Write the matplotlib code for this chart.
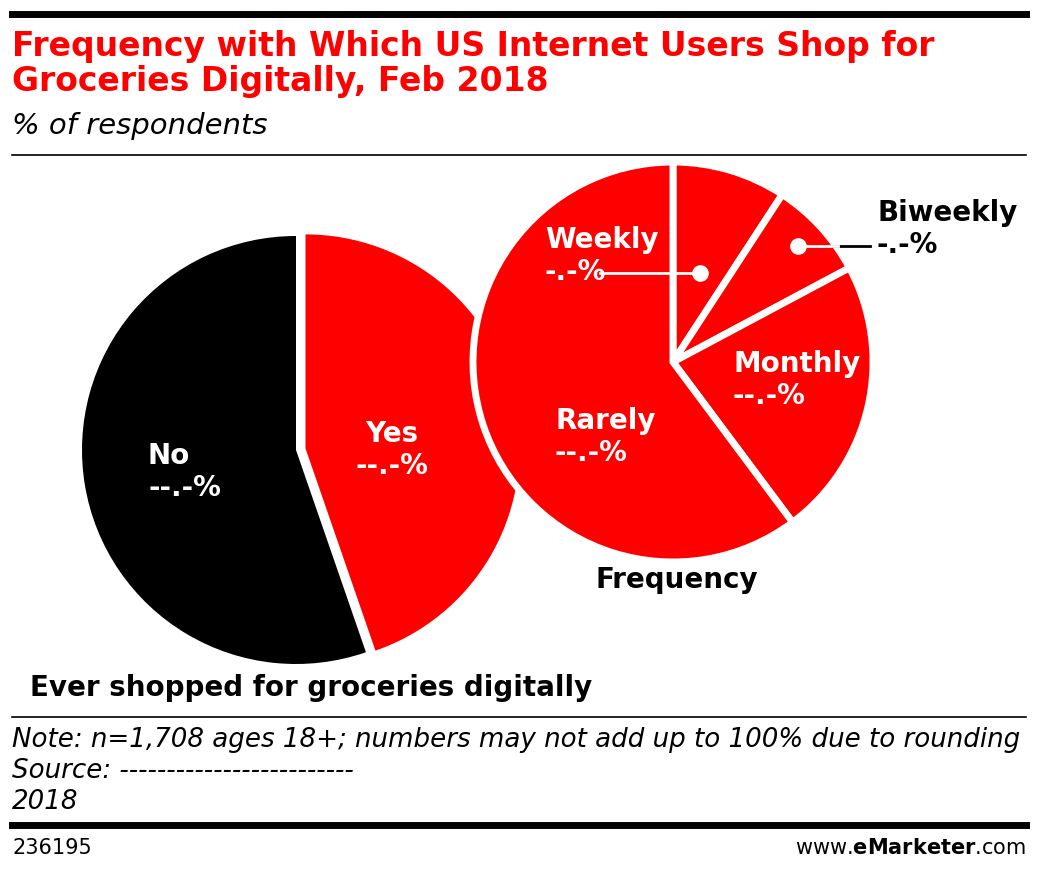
import matplotlib
matplotlib.use("Agg")
import matplotlib.pyplot as plt
from matplotlib.lines import Line2D

W, H = 1038, 873
ever_labels = ["Yes", "No"]
ever_values = [44.7, 55.3]
freq_labels = ["Weekly", "Biweekly", "Monthly", "Rarely"]
freq_values = [9.2, 8.0, 22.6, 60.2]
RED = "#ff0000"

fig = plt.figure(figsize=(W/100, H/100), dpi=100)
fig.patch.set_facecolor("white")

def fx(x): return x / W
def fy(y): return 1 - y / H

def hline(y, lw, x0=12, x1=1026):
    fig.add_artist(Line2D([fx(x0), fx(x1)], [fy(y), fy(y)], color="black", lw=lw))

hline(14, 5)
hline(155, 1.2)
hline(717, 1.2)
hline(825, 5)

def txt(x, y, s, **kw):
    kw.setdefault("va", "center")
    fig.text(fx(x), fy(y), s, zorder=10, **kw)

txt(12, 64, "Frequency with Which US Internet Users Shop for\nGroceries Digitally, Feb 2018",
    color=RED, fontsize=23.8, fontweight="bold", ha="left", linespacing=1.08)
txt(12, 126, "% of respondents", fontsize=21, style="italic")
txt(12, 740, "Note: n=1,708 ages 18+; numbers may not add up to 100% due to rounding",
    fontsize=18.8, style="italic")
txt(12, 771, "Source: -------------------------", fontsize=18.8, style="italic")
txt(12, 802, "2018", fontsize=18.8, style="italic")
txt(12, 848, "236195", fontsize=15)
txt(1026, 848, "www.$\\bf{eMarketer}$.com", fontsize=15, ha="right")

# Left pie
ax1 = fig.add_axes([fx(82), fy(664), 428/W, 428/H])
ax1.pie(ever_values, colors=[RED, "black"], startangle=90, counterclock=False,
        explode=[0.045, 0], radius=1, wedgeprops=dict(linewidth=0))
ax1.set_xlim(-1, 1); ax1.set_ylim(-1, 1)
ax1.set_aspect("equal")
txt(392, 450, "Yes\n--.-%", color="white", fontsize=20, fontweight="bold", ha="center")
txt(148, 472, "No\n--.-%", color="white", fontsize=20, fontweight="bold", ha="left")
txt(30, 688, "Ever shopped for groceries digitally", fontsize=20, fontweight="bold")

# Right pie
ax2 = fig.add_axes([fx(469), fy(566), 408/W, 408/H])
ax2.pie(freq_values, colors=[RED]*4, startangle=90, counterclock=False,
        radius=1, wedgeprops=dict(edgecolor="white", linewidth=5))
ax2.set_xlim(-1.02, 1.02); ax2.set_ylim(-1.02, 1.02)
ax2.set_aspect("equal")
ax2.set_zorder(2)
txt(545, 256, "Weekly\n-.-%", color="white", fontsize=20, fontweight="bold", ha="left")
fig.add_artist(Line2D([fx(600), fx(700)], [fy(273), fy(273)], color="white", lw=2, zorder=5))
fig.add_artist(Line2D([fx(700)], [fy(273)], marker="o", color="white", ms=11, zorder=5))
fig.add_artist(Line2D([fx(798), fx(870)], [fy(246), fy(246)], color="black", lw=2, zorder=5))
fig.add_artist(Line2D([fx(798), fx(838)], [fy(246), fy(246)], color="white", lw=2, zorder=6))
fig.add_artist(Line2D([fx(798)], [fy(246)], marker="o", color="white", ms=11, zorder=6))
txt(877, 229, "Biweekly\n-.-%", color="black", fontsize=20, fontweight="bold", ha="left")
txt(733, 380, "Monthly\n--.-%", color="white", fontsize=20, fontweight="bold", ha="left")
txt(555, 437, "Rarely\n--.-%", color="white", fontsize=20, fontweight="bold", ha="left")
txt(677, 580, "Frequency", fontsize=20, fontweight="bold", ha="center")

fig.savefig("out.png", dpi=100)
